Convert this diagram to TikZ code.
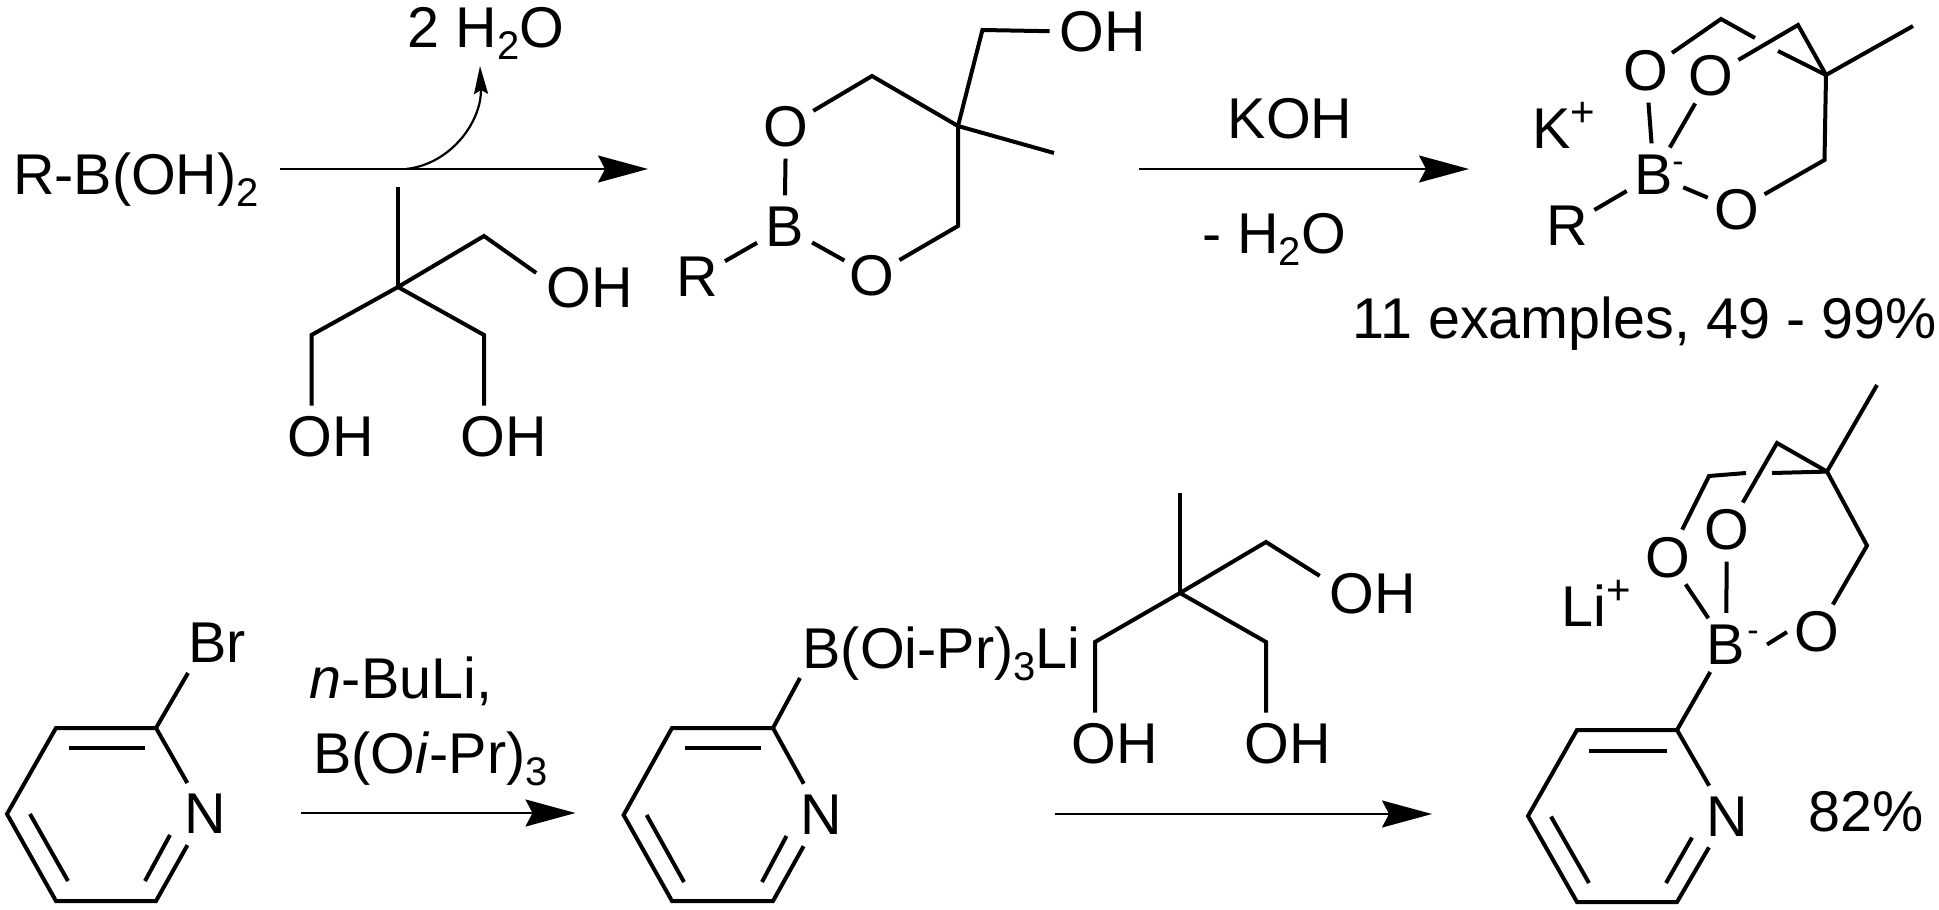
\documentclass[tikz,border=0pt]{standalone}
\usepackage{fontspec}
\setmainfont{Liberation Sans}
\usetikzlibrary{arrows.meta}
\newcommand{\subs}[1]{\raisebox{-12pt}{\fontsize{40}{40}\selectfont #1}}
\newcommand{\sups}[1]{\raisebox{22pt}{\fontsize{42}{42}\selectfont #1}}
\tikzset{
  bond/.style={line width=4pt},
  dbl/.style={line width=4pt},
  rxn/.style={line width=2.2pt,-{Stealth[length=50pt,width=27pt,inset=7pt]}},
  bent/.style={line width=2.2pt,-{Stealth[length=28pt,width=14pt,inset=4pt]}},
  atom/.style={circle,inner sep=0pt,minimum size=63pt,font=\fontsize{57.5}{60}\selectfont},
  natom/.style={atom,minimum size=71pt},
  txt/.style={anchor=base,inner sep=10pt,font=\fontsize{57.5}{60}\selectfont},
  chg/.style={anchor=base,inner sep=0pt,font=\fontsize{34}{36}\selectfont}
}
\begin{document}
\begin{tikzpicture}[x=1pt,y=-1pt]
\useasboundingbox (0,0) rectangle (1939,910);
% --- first reaction: reagents and arrow
\node[txt] (rba) at (136,194) {R-B(OH)\subs{2}};
\node[txt] (water) at (486,47) {2 H\subs{2}O};
\coordinate (a1s) at (280,169); \coordinate (a1e) at (648,169);
\draw[rxn] (a1s) -- (a1e);
\coordinate (bs) at (406,169); \coordinate (be) at (480,66);
\draw[bent] (bs) .. controls (452,164) and (482,120) .. (be);
% triol 1
\coordinate (t0) at (398,287); \coordinate (tm) at (398,187);
\coordinate (tr) at (484,236); \coordinate (tl) at (311.5,335); \coordinate (tb) at (484,335);
\node[txt] (toh1) at (589.5,307) {OH};
\node[txt] (toh2) at (331,456) {OH};
\node[txt] (toh3) at (504,456) {OH};
\draw[bond] (tm) -- (t0);
\draw[bond] (toh1.165) -- (tr) -- (t0) -- (tl) -- (tl |- toh2.north);
\draw[bond] (t0) -- (tb) -- (tb |- toh3.north);
% dioxaborinane
\node[atom] (eo1) at (786,127) {O};
\node[atom] (eb) at (784.5,227) {B};
\node[atom] (er) at (697.5,277) {R};
\node[atom] (eo2) at (872,276) {O};
\coordinate (ec1) at (872,76); \coordinate (ec2) at (958,126); \coordinate (ec3) at (958,226);
\coordinate (ec4) at (982.4,30); \coordinate (eme) at (1054,153);
\node[txt] (eoh) at (1103,51) {OH};
\draw[bond] (eo1) -- (ec1) -- (ec2) -- (ec3) -- (eo2);
\draw[bond] (eo1) -- (eb);
\draw[bond] (eb) -- (er);
\draw[bond] (eb) -- (eo2);
\draw[bond] (ec2) -- (eme);
\draw[bond] (ec2) -- (ec4) -- (eoh.west);
% KOH arrow
\node[txt] (koh) at (1290,138) {KOH};
\node[txt] (mh2o) at (1274,253) {- H\subs{2}O};
\coordinate (a2s) at (1139,169); \coordinate (a2e) at (1469,169);
\draw[rxn] (a2s) -- (a2e);
% potassium boronate
\node[txt] (kp) at (1564,148) {K\sups{+}};
\node[atom] (ko1) at (1646,71) {O};
\node[atom] (ko2) at (1711,76) {O};
\node[atom] (ko3) at (1737,210) {O};
\node[atom] (kb) at (1654,175) {B};
\node[chg] (kbm) at (1678,172) {-};
\node[atom] (kr) at (1567,226) {R};
\coordinate (kc1) at (1721,19); \coordinate (kc1e) at (1755,38);
\coordinate (kc2) at (1798,25); \coordinate (kq) at (1826,75);
\coordinate (kfree) at (1778,51); \coordinate (kme) at (1913,26); \coordinate (kc3) at (1824.5,160);
\draw[bond] (ko1) -- (kc1) -- (kc1e);
\draw[bond] (ko2) -- (kc2) -- (kq) -- (kc3) -- (ko3);
\draw[bond] (kfree) -- (kq) -- (kme);
\draw[bond] (ko1) -- (kb);
\draw[bond] (ko2) -- (kb);
\draw[bond] (kb) -- (ko3);
\draw[bond] (kb) -- (kr);
\node[txt] (kex) at (1644.5,338) {11 examples, 49 - 99\%};
% --- second reaction: bromopyridine
\node[natom] (pn) at (205,814) {N};
\node[txt] (pbr) at (217,662) {Br};
\coordinate (p2) at (156,728); \coordinate (p3) at (56,728); \coordinate (p4) at (7,814);
\coordinate (p5) at (56,901); \coordinate (p6) at (156,901); \coordinate (pbe) at (188,673);
\coordinate (pi1) at (68.6,748); \coordinate (pi2) at (145,748);
\coordinate (pi3) at (30,814); \coordinate (pi4) at (68,881);
\coordinate (pi5) at (170,835); \coordinate (pi6) at (145,881);
\draw[bond] (pn) -- (p2) -- (p3) -- (p4) -- (p5) -- (p6) -- (pn);
\draw[bond] (p2) -- (pbe);
\draw[dbl] (pi1) -- (pi2);
\draw[dbl] (pi3) -- (pi4);
\draw[dbl] (pi5) -- (pi6);
\node[txt] (nbuli) at (401,698) {\textit{n}-BuLi,};
\node[txt] (boipr) at (430.5,773) {B(O\textit{i}-Pr)\subs{3}};
\coordinate (a3s) at (301,813); \coordinate (a3e) at (575.5,813);
\draw[rxn] (a3s) -- (a3e);
% lithium triisopropylborate
\node[natom] (qn) at (821,815) {N};
\node[txt] (qb) at (941.5,668) {B(Oi-Pr)\subs{3}Li};
\coordinate (q2) at (773,728); \coordinate (q3) at (672,728); \coordinate (q4) at (623.6,815);
\coordinate (q5) at (672,901); \coordinate (q6) at (773,901); \coordinate (qbe) at (800,678);
\coordinate (qi1) at (685,748); \coordinate (qi2) at (761,748);
\coordinate (qi3) at (646.6,815); \coordinate (qi4) at (684,882);
\coordinate (qi5) at (786.5,836); \coordinate (qi6) at (762,882);
\draw[bond] (qn) -- (q2) -- (q3) -- (q4) -- (q5) -- (q6) -- (qn);
\draw[bond] (q2) -- (qbe);
\draw[dbl] (qi1) -- (qi2);
\draw[dbl] (qi3) -- (qi4);
\draw[dbl] (qi5) -- (qi6);
% triol 2
\coordinate (u0) at (1180,593); \coordinate (um) at (1180,493);
\coordinate (ur) at (1266,542); \coordinate (ul) at (1095,642); \coordinate (ub) at (1266,642);
\node[txt] (uoh1) at (1373,613) {OH};
\node[txt] (uoh2) at (1115,763) {OH};
\node[txt] (uoh3) at (1287.5,763) {OH};
\draw[bond] (um) -- (u0);
\draw[bond] (uoh1.162) -- (ur) -- (u0) -- (ul) -- (ul |- uoh2.north);
\draw[bond] (u0) -- (ub) -- (ub |- uoh3.north);
\coordinate (a4s) at (1055,814); \coordinate (a4e) at (1432,814);
\draw[rxn] (a4s) -- (a4e);
% lithium boronate
\node[txt] (lip) at (1596,626.5) {Li\sups{+}};
\node[atom] (lo1) at (1668,558) {O};
\node[atom] (lo2) at (1727,530) {O};
\node[atom] (lo3) at (1817,632) {O};
\node[atom] (lb) at (1726,644.5) {B};
\node[chg] (lbm) at (1753,641) {-};
\coordinate (lc1) at (1709,476); \coordinate (lc1e) at (1746,473);
\coordinate (lc2) at (1777,443); \coordinate (lq) at (1827,471.6);
\coordinate (lfree) at (1772,473); \coordinate (lme) at (1877,385); \coordinate (lc3) at (1867,545.6);
\coordinate (lbo1) at (1767,644.5); \coordinate (lbo2) at (1787,632);
\draw[bond] (lo1) -- (lc1) -- (lc1e);
\draw[bond] (lo2) -- (lc2) -- (lq) -- (lc3) -- (lo3);
\draw[bond] (lfree) -- (lq) -- (lme);
\draw[bond] (lo1) -- (lb);
\draw[bond] (lo2) -- (lb);
\draw[bond] (lbo1) -- (lbo2);
\node[natom] (rn) at (1727,816.6) {N};
\coordinate (r2) at (1677,730); \coordinate (r3) at (1577,730); \coordinate (r4) at (1528,816);
\coordinate (r5) at (1577,902); \coordinate (r6) at (1677,902);
\coordinate (ri1) at (1589,750.5); \coordinate (ri2) at (1667,750.5);
\coordinate (ri3) at (1551,816.6); \coordinate (ri4) at (1589,883);
\coordinate (ri5) at (1692,837.6); \coordinate (ri6) at (1666,883);
\draw[bond] (rn) -- (r2) -- (r3) -- (r4) -- (r5) -- (r6) -- (rn);
\draw[bond] (r2) -- (lb);
\draw[dbl] (ri1) -- (ri2);
\draw[dbl] (ri3) -- (ri4);
\draw[dbl] (ri5) -- (ri6);
\node[txt] (yld) at (1866,831) {82\%};
\end{tikzpicture}
\end{document}
